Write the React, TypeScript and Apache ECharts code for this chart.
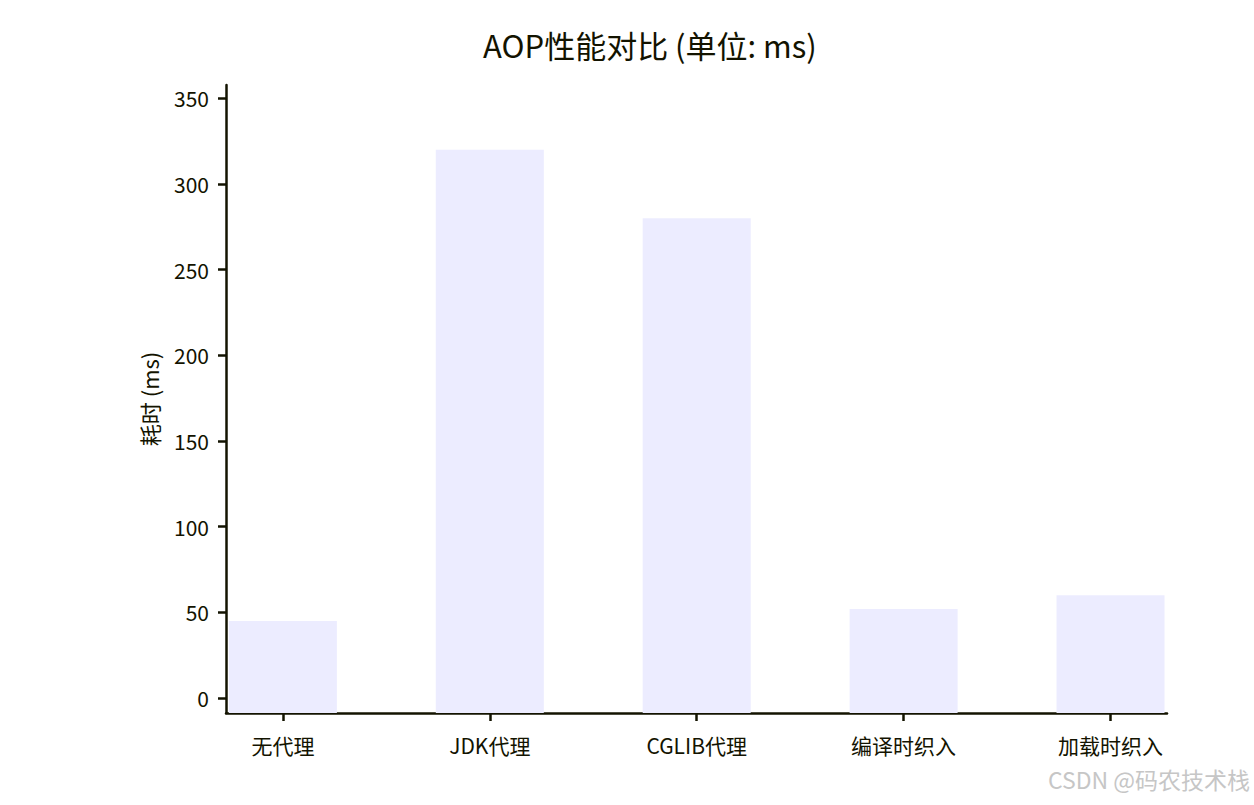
// Grafico de barras: desempenho de AOP por tipo de proxy/weaving (ms).
import { useEffect, useRef } from 'react'
import * as echarts from 'echarts'

const CATEGORIAS = ['无代理', 'JDK代理', 'CGLIB代理', '编译时织入', '加载时织入']
const TEMPOS = [45, 320, 280, 52, 60]
const TICKS_Y = [0, 50, 100, 150, 200, 250, 300, 350]
const POSICOES_X = [0, 1, 2, 3, 4]

const FONTE = '"Noto Sans CJK SC", "Noto Sans", sans-serif'
const COR_EIXO = '#131300'
const COR_BARRA = '#ECECFF'

export default function App() {
  const containerRef = useRef<HTMLDivElement>(null)

  useEffect(() => {
    if (!containerRef.current) return
    const instancia = echarts.init(containerRef.current, null, { renderer: 'svg' })

    instancia.setOption({
      animation: false,
      backgroundColor: '#ffffff',
      textStyle: { fontFamily: FONTE },
      title: {
        text: 'AOP性能对比 (单位: ms)',
        left: 478,
        top: 24,
        textStyle: { fontFamily: FONTE, fontSize: 31, fontWeight: 'normal', color: '#131300' },
      },
      grid: { left: 226, right: 87, top: 85, bottom: 92, containLabel: false },
      xAxis: {
        type: 'value',
        min: -0.275,
        max: 4.273,
        splitLine: { show: false },
        axisLine: { show: true, onZero: false, lineStyle: { color: COR_EIXO, width: 2.5 } },
        axisTick: { show: true, customValues: POSICOES_X, length: 8, lineStyle: { color: COR_EIXO, width: 2.5 } },
        axisLabel: {
          customValues: POSICOES_X,
          formatter: (v: number) => CATEGORIAS[Math.round(v)] ?? '',
          margin: 21,
          fontSize: 21,
          color: '#131300',
          fontFamily: FONTE,
        },
      },
      yAxis: {
        type: 'value',
        min: -8.75,
        max: 357.8,
        startValue: -8.75,
        name: '耗时 (ms)',
        nameLocation: 'middle',
        nameRotate: 90,
        nameGap: 66,
        nameTextStyle: { fontSize: 22, color: '#131300', fontFamily: FONTE },
        splitLine: { show: false },
        axisLine: { show: true, onZero: false, lineStyle: { color: COR_EIXO, width: 2.5 } },
        axisTick: { show: true, customValues: TICKS_Y, length: 8, lineStyle: { color: COR_EIXO, width: 2.5 } },
        axisLabel: {
          customValues: TICKS_Y,
          margin: 17,
          fontSize: 21,
          color: '#131300',
          fontFamily: FONTE,
        },
      },
      series: [
        {
          type: 'bar',
          data: TEMPOS.map((v, i) => [POSICOES_X[i], v]),
          barWidth: 108,
          itemStyle: { color: COR_BARRA },
          clip: false,
        },
      ],
      graphic: [
        {
          type: 'text',
          right: 4,
          top: 767,
          style: {
            text: 'CSDN @码农技术栈',
            fontSize: 23,
            fontFamily: FONTE,
            fill: '#c6c6c6',
          },
        },
      ],
    })

    return () => instancia.dispose()
  }, [])

  return <div ref={containerRef} style={{ position: 'fixed', left: 0, top: 0, width: 1254, height: 805 }} />
}
